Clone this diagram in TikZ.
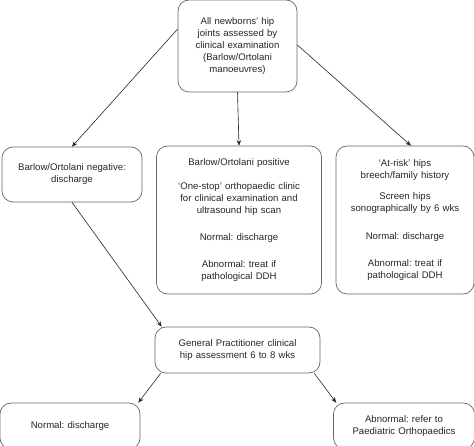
\documentclass[tikz,border=0pt]{standalone}
\usepackage{fontspec}
\setmainfont{Liberation Sans}
\usetikzlibrary{positioning,arrows.meta}
\frenchspacing

\tikzset{
    stage/.style={draw=black!60, line width=0.7pt, rounded corners=11pt, align=center,
        inner sep=0pt, text=black!85, font=\fontsize{9.6}{12}\selectfont},
    flow/.style={->, black!85, line width=0.6pt}
}

\begin{document}
\begin{tikzpicture}[>={Stealth[length=5.5pt,width=4.5pt]}, x=1pt, y=-1pt]
    \useasboundingbox (0,0) rectangle (474,446);

    \node[stage, text width=119pt, minimum height=92pt] (screen) at (237.5,46)
        {All newborns' hip\\joints assessed by\\clinical examination\\(Barlow/Ortolani\\manoeuvres)};

    \node[stage, text width=140pt, minimum height=55pt] (negative) at (72,174.5)
        {Barlow/Ortolani negative:\\discharge};
    \node[stage, text width=165pt, minimum height=148pt] (positive) at (239,220)
        {Barlow/Ortolani positive\\[12pt]
         `One-stop' orthopaedic clinic\\for clinical examination and\\ultrasound hip scan\\[15pt]
         Normal: discharge\\[15pt]
         Abnormal: treat if\\pathological DDH};
    \node[stage, text width=138pt, minimum height=148pt] (atrisk) at (405,220)
        {`At-risk' hips\\breech/family history\\[9pt]
         Screen hips\\sonographically by 6 wks\\[16pt]
         Normal: discharge\\[15pt]
         Abnormal: treat if\\pathological DDH};

    \node[stage, text width=165pt, minimum height=46pt] (gp) at (237.5,350)
        {General Practitioner clinical\\hip assessment 6 to 8 wks};

    \node[stage, text width=140pt, minimum height=46pt] (normal) at (70,426)
        {Normal: discharge};
    \node[stage, text width=141pt, minimum height=46pt] (refer) at (404,426)
        {Abnormal: refer to\\Paediatric Orthopaedics};

    % arrows from the first examination
    \draw[flow] ([yshift=17pt]screen.west) -- (negative.north);
    \draw[flow] (screen.south) -- (positive.north);
    \draw[flow] ([yshift=1pt]screen.east) -- ([xshift=6pt]atrisk.north);

    \draw[flow] (negative.south) -- ([xshift=7pt]gp.north west);
    \draw[flow] ([xshift=6pt]gp.south west) -- ([xshift=-2pt]normal.north east);
    \draw[flow] ([xshift=-6pt]gp.south east) -- ([xshift=3pt]refer.north west);
\end{tikzpicture}
\end{document}
